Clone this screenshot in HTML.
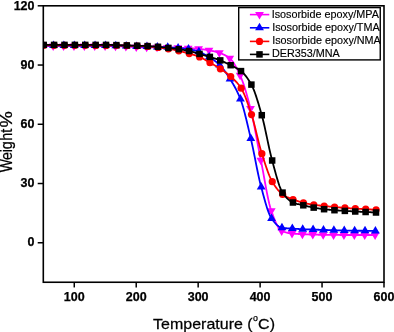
<!DOCTYPE html>
<html><head><meta charset="utf-8"><title>TGA</title>
<style>
html,body{margin:0;padding:0;background:#fff;}
body{width:394px;height:332px;overflow:hidden;position:relative;}
svg{position:absolute;left:0;top:0;display:block;}
text{font-family:"Liberation Sans",Arial,Helvetica,sans-serif;fill:#000;}
.tk{font-weight:bold;font-size:12.5px;stroke:#000;stroke-width:0.25px;}
.ax{font-size:15px;stroke:#000;stroke-width:0.25px;}
.lg{font-size:10.8px;stroke:#000;stroke-width:0.15px;}
</style></head><body>
<svg width="394" height="332" viewBox="0 0 394 332">
<rect x="0" y="0" width="394" height="332" fill="#fff"/>
<defs><clipPath id="pc"><rect x="43.30" y="5.80" width="340.70" height="276.45"/></clipPath></defs>

<g clip-path="url(#pc)">
<path d="M43.30 46.00 L42.82 46.00 L43.65 46.00 L44.48 46.00 L45.31 46.00 L46.15 46.00 L46.98 46.00 L47.81 46.00 L48.65 46.00 L49.48 46.00 L50.31 46.00 L51.14 46.00 L51.98 46.00 L52.81 46.00 L53.64 46.00 L54.48 46.00 L55.31 46.00 L56.14 46.00 L56.97 46.00 L57.81 46.00 L58.64 46.00 L59.47 46.00 L60.30 46.00 L61.14 46.00 L61.97 46.00 L62.80 46.00 L63.64 46.00 L64.47 46.00 L65.30 46.00 L66.13 46.00 L66.97 46.00 L67.80 46.00 L68.63 46.00 L69.47 46.00 L70.30 46.00 L71.13 46.00 L71.96 46.00 L72.80 46.00 L73.63 46.00 L74.46 46.00 L75.30 46.00 L76.13 46.00 L76.96 46.00 L77.79 46.00 L78.63 46.00 L79.46 46.00 L80.29 46.00 L81.12 46.00 L81.96 46.00 L82.79 46.00 L83.62 46.00 L84.46 46.00 L85.29 46.00 L86.12 46.00 L86.95 46.00 L87.79 46.00 L88.62 46.00 L89.45 46.00 L90.29 46.00 L91.12 46.00 L91.95 46.00 L92.78 46.00 L93.62 46.00 L94.45 46.00 L95.28 46.00 L96.12 46.00 L96.95 46.00 L97.78 46.00 L98.61 46.00 L99.45 46.00 L100.28 46.00 L101.11 46.00 L101.94 46.00 L102.78 46.00 L103.61 46.00 L104.44 46.00 L105.28 46.00 L106.11 46.00 L106.94 46.01 L107.77 46.02 L108.61 46.03 L109.44 46.05 L110.27 46.07 L111.11 46.09 L111.94 46.11 L112.77 46.13 L113.60 46.15 L114.44 46.17 L115.27 46.19 L116.10 46.22 L116.94 46.24 L117.77 46.27 L118.60 46.30 L119.43 46.33 L120.27 46.36 L121.10 46.39 L121.93 46.43 L122.76 46.46 L123.60 46.50 L124.43 46.54 L125.26 46.57 L126.10 46.61 L126.93 46.65 L127.76 46.69 L128.59 46.73 L129.43 46.78 L130.26 46.82 L131.09 46.87 L131.93 46.92 L132.76 46.96 L133.59 47.00 L134.42 47.04 L135.26 47.07 L136.09 47.09 L136.92 47.12 L137.76 47.14 L138.59 47.16 L139.42 47.19 L140.25 47.21 L141.09 47.23 L141.92 47.25 L142.75 47.26 L143.59 47.28 L144.42 47.29 L145.25 47.29 L146.08 47.30 L146.92 47.30 L147.75 47.30 L148.58 47.30 L149.41 47.30 L150.25 47.30 L151.08 47.30 L151.91 47.30 L152.75 47.30 L153.58 47.30 L154.41 47.30 L155.24 47.30 L156.08 47.30 L156.91 47.30 L157.74 47.30 L158.58 47.30 L159.41 47.31 L160.24 47.31 L161.07 47.32 L161.91 47.33 L162.74 47.34 L163.57 47.35 L164.41 47.36 L165.24 47.37 L166.07 47.38 L166.90 47.39 L167.74 47.41 L168.57 47.42 L169.40 47.45 L170.23 47.47 L171.07 47.50 L171.90 47.54 L172.73 47.58 L173.57 47.61 L174.40 47.65 L175.23 47.69 L176.06 47.73 L176.90 47.76 L177.73 47.80 L178.56 47.83 L179.40 47.86 L180.23 47.89 L181.06 47.92 L181.89 47.95 L182.73 47.98 L183.56 48.01 L184.39 48.04 L185.23 48.07 L186.06 48.11 L186.89 48.14 L187.72 48.18 L188.56 48.22 L189.39 48.26 L190.22 48.29 L191.05 48.33 L191.89 48.37 L192.72 48.42 L193.55 48.46 L194.39 48.51 L195.22 48.56 L196.05 48.61 L196.88 48.67 L197.72 48.73 L198.55 48.80 L199.38 48.87 L200.22 48.96 L201.05 49.05 L201.88 49.16 L202.71 49.27 L203.55 49.39 L204.38 49.52 L205.21 49.65 L206.05 49.79 L206.88 49.93 L207.71 50.08 L208.54 50.23 L209.38 50.38 L210.21 50.53 L211.04 50.69 L211.87 50.86 L212.71 51.03 L213.54 51.21 L214.37 51.41 L215.21 51.61 L216.04 51.82 L216.87 52.05 L217.70 52.29 L218.54 52.54 L219.37 52.81 L220.20 53.09 L221.04 53.40 L221.87 53.72 L222.70 54.07 L223.53 54.45 L224.37 54.85 L225.20 55.29 L226.03 55.76 L226.87 56.26 L227.70 56.81 L228.53 57.39 L229.36 58.01 L230.20 58.70 L231.03 59.52 L231.86 60.48 L232.69 61.57 L233.53 62.77 L234.36 64.09 L235.19 65.50 L236.03 67.00 L236.86 68.57 L237.69 70.22 L238.52 71.92 L239.36 73.68 L240.19 75.47 L241.02 77.38 L241.86 79.47 L242.69 81.72 L243.52 84.11 L244.35 86.65 L245.19 89.32 L246.02 92.10 L246.85 94.99 L247.69 97.97 L248.52 101.04 L249.35 104.18 L250.18 107.39 L251.02 110.69 L251.85 114.24 L252.68 118.04 L253.51 122.03 L254.35 126.19 L255.18 130.48 L256.01 134.85 L256.85 139.28 L257.68 143.72 L258.51 148.15 L259.34 152.52 L260.18 156.79 L261.01 160.94 L261.84 165.19 L262.68 169.62 L263.51 174.18 L264.34 178.78 L265.17 183.39 L266.01 187.91 L266.84 192.30 L267.67 196.49 L268.51 200.42 L269.34 204.01 L270.17 207.21 L271.00 209.95 L271.84 212.29 L272.67 214.57 L273.50 216.80 L274.33 218.95 L275.17 220.99 L276.00 222.92 L276.83 224.70 L277.67 226.31 L278.50 227.73 L279.33 228.94 L280.16 229.91 L281.00 230.63 L281.83 231.08 L282.66 231.41 L283.50 231.72 L284.33 231.99 L285.16 232.24 L285.99 232.47 L286.83 232.67 L287.66 232.85 L288.49 233.01 L289.33 233.15 L290.16 233.27 L290.99 233.38 L291.82 233.48 L292.66 233.56 L293.49 233.64 L294.32 233.71 L295.16 233.78 L295.99 233.84 L296.82 233.90 L297.65 233.95 L298.49 234.00 L299.32 234.04 L300.15 234.09 L300.98 234.13 L301.82 234.17 L302.65 234.21 L303.48 234.25 L304.32 234.29 L305.15 234.33 L305.98 234.36 L306.81 234.40 L307.65 234.43 L308.48 234.46 L309.31 234.49 L310.15 234.52 L310.98 234.55 L311.81 234.57 L312.64 234.60 L313.48 234.62 L314.31 234.64 L315.14 234.66 L315.98 234.68 L316.81 234.69 L317.64 234.71 L318.47 234.73 L319.31 234.74 L320.14 234.76 L320.97 234.77 L321.80 234.78 L322.64 234.79 L323.47 234.80 L324.30 234.81 L325.14 234.82 L325.97 234.83 L326.80 234.84 L327.63 234.85 L328.47 234.85 L329.30 234.86 L330.13 234.87 L330.97 234.88 L331.80 234.88 L332.63 234.89 L333.46 234.90 L334.30 234.91 L335.13 234.92 L335.96 234.93 L336.80 234.94 L337.63 234.95 L338.46 234.96 L339.29 234.97 L340.13 234.98 L340.96 234.99 L341.79 234.99 L342.62 235.00 L343.46 235.00 L344.29 235.00 L345.12 235.00 L345.96 235.00 L346.79 235.00 L347.62 235.00 L348.45 235.00 L349.29 235.00 L350.12 235.00 L350.95 235.00 L351.79 235.00 L352.62 235.00 L353.45 235.00 L354.28 235.00 L355.12 235.00 L355.95 235.00 L356.78 235.00 L357.62 235.00 L358.45 235.00 L359.28 235.00 L360.11 235.00 L360.95 235.00 L361.78 235.00 L362.61 235.00 L363.44 235.00 L364.28 235.00 L365.11 235.00 L365.94 235.00 L366.78 235.00 L367.61 235.00 L368.44 235.00 L369.27 235.00 L370.11 235.00 L370.94 235.00 L371.77 235.00 L372.61 235.00 L373.44 235.00 L374.27 235.00 L375.10 235.00" fill="none" stroke="#ff00ff" stroke-width="1.8" stroke-linejoin="round"/>
<g fill="#ff00ff"><path d="M38.42 43.50L47.22 43.50L42.82 51.00Z"/><path d="M48.80 43.50L57.60 43.50L53.20 51.00Z"/><path d="M59.18 43.50L67.98 43.50L63.58 51.00Z"/><path d="M69.57 43.50L78.37 43.50L73.97 51.00Z"/><path d="M79.95 43.50L88.75 43.50L84.35 51.00Z"/><path d="M90.34 43.50L99.14 43.50L94.74 51.00Z"/><path d="M100.72 43.50L109.52 43.50L105.12 51.00Z"/><path d="M111.10 43.70L119.90 43.70L115.50 51.20Z"/><path d="M121.49 44.10L130.29 44.10L125.89 51.60Z"/><path d="M131.87 44.60L140.67 44.60L136.27 52.10Z"/><path d="M142.26 44.80L151.06 44.80L146.66 52.30Z"/><path d="M152.64 44.80L161.44 44.80L157.04 52.30Z"/><path d="M163.02 44.90L171.82 44.90L167.42 52.40Z"/><path d="M173.41 45.30L182.21 45.30L177.81 52.80Z"/><path d="M183.79 45.70L192.59 45.70L188.19 53.20Z"/><path d="M194.18 46.30L202.98 46.30L198.58 53.80Z"/><path d="M204.56 47.80L213.36 47.80L208.96 55.30Z"/><path d="M214.94 50.30L223.74 50.30L219.34 57.80Z"/><path d="M225.33 55.80L234.13 55.80L229.73 63.30Z"/><path d="M235.71 72.80L244.51 72.80L240.11 80.30Z"/><path d="M246.10 106.10L254.90 106.10L250.50 113.60Z"/><path d="M256.48 157.80L265.28 157.80L260.88 165.30Z"/><path d="M266.86 208.20L275.66 208.20L271.26 215.70Z"/><path d="M277.25 228.50L286.05 228.50L281.65 236.00Z"/><path d="M287.63 231.00L296.43 231.00L292.03 238.50Z"/><path d="M298.02 231.70L306.82 231.70L302.42 239.20Z"/><path d="M308.40 232.10L317.20 232.10L312.80 239.60Z"/><path d="M318.78 232.30L327.58 232.30L323.18 239.80Z"/><path d="M329.17 232.40L337.97 232.40L333.57 239.90Z"/><path d="M339.55 232.50L348.35 232.50L343.95 240.00Z"/><path d="M349.94 232.50L358.74 232.50L354.34 240.00Z"/><path d="M360.32 232.50L369.12 232.50L364.72 240.00Z"/><path d="M370.70 232.50L379.50 232.50L375.10 240.00Z"/></g>
<path d="M43.30 45.50 L43.12 45.50 L43.95 45.50 L44.78 45.50 L45.61 45.50 L46.45 45.50 L47.28 45.50 L48.11 45.50 L48.95 45.50 L49.78 45.50 L50.61 45.50 L51.44 45.50 L52.28 45.50 L53.11 45.50 L53.94 45.50 L54.78 45.50 L55.61 45.50 L56.44 45.50 L57.27 45.50 L58.11 45.50 L58.94 45.50 L59.77 45.50 L60.60 45.50 L61.44 45.50 L62.27 45.50 L63.10 45.50 L63.94 45.50 L64.77 45.50 L65.60 45.50 L66.43 45.50 L67.27 45.50 L68.10 45.50 L68.93 45.50 L69.77 45.50 L70.60 45.50 L71.43 45.50 L72.26 45.50 L73.10 45.50 L73.93 45.50 L74.76 45.50 L75.60 45.50 L76.43 45.50 L77.26 45.50 L78.09 45.50 L78.93 45.50 L79.76 45.50 L80.59 45.50 L81.42 45.50 L82.26 45.50 L83.09 45.50 L83.92 45.50 L84.76 45.50 L85.59 45.50 L86.42 45.50 L87.25 45.50 L88.09 45.50 L88.92 45.50 L89.75 45.50 L90.59 45.50 L91.42 45.50 L92.25 45.50 L93.08 45.50 L93.92 45.50 L94.75 45.50 L95.58 45.50 L96.42 45.50 L97.25 45.50 L98.08 45.50 L98.91 45.50 L99.75 45.50 L100.58 45.50 L101.41 45.50 L102.24 45.50 L103.08 45.50 L103.91 45.50 L104.74 45.50 L105.58 45.50 L106.41 45.50 L107.24 45.51 L108.07 45.52 L108.91 45.53 L109.74 45.55 L110.57 45.57 L111.41 45.59 L112.24 45.61 L113.07 45.63 L113.90 45.65 L114.74 45.67 L115.57 45.69 L116.40 45.71 L117.24 45.73 L118.07 45.76 L118.90 45.78 L119.73 45.80 L120.57 45.82 L121.40 45.85 L122.23 45.87 L123.06 45.90 L123.90 45.93 L124.73 45.95 L125.56 45.98 L126.40 46.01 L127.23 46.04 L128.06 46.07 L128.89 46.10 L129.73 46.14 L130.56 46.17 L131.39 46.21 L132.23 46.25 L133.06 46.28 L133.89 46.31 L134.72 46.34 L135.56 46.37 L136.39 46.40 L137.22 46.42 L138.06 46.43 L138.89 46.45 L139.72 46.47 L140.55 46.48 L141.39 46.50 L142.22 46.51 L143.05 46.52 L143.89 46.54 L144.72 46.55 L145.55 46.57 L146.38 46.59 L147.22 46.61 L148.05 46.63 L148.88 46.65 L149.71 46.67 L150.55 46.69 L151.38 46.71 L152.21 46.74 L153.05 46.76 L153.88 46.79 L154.71 46.82 L155.54 46.84 L156.38 46.87 L157.21 46.90 L158.04 46.92 L158.88 46.95 L159.71 46.98 L160.54 47.01 L161.37 47.03 L162.21 47.06 L163.04 47.10 L163.87 47.13 L164.71 47.16 L165.54 47.20 L166.37 47.23 L167.20 47.27 L168.04 47.32 L168.87 47.36 L169.70 47.42 L170.53 47.47 L171.37 47.53 L172.20 47.60 L173.03 47.67 L173.87 47.73 L174.70 47.80 L175.53 47.88 L176.36 47.95 L177.20 48.02 L178.03 48.09 L178.86 48.16 L179.70 48.23 L180.53 48.30 L181.36 48.37 L182.19 48.43 L183.03 48.50 L183.86 48.58 L184.69 48.66 L185.53 48.74 L186.36 48.83 L187.19 48.93 L188.02 49.04 L188.86 49.15 L189.69 49.29 L190.52 49.44 L191.35 49.62 L192.19 49.81 L193.02 50.01 L193.85 50.23 L194.69 50.46 L195.52 50.71 L196.35 50.97 L197.18 51.23 L198.02 51.51 L198.85 51.79 L199.68 52.09 L200.52 52.42 L201.35 52.78 L202.18 53.16 L203.01 53.56 L203.85 53.99 L204.68 54.43 L205.51 54.89 L206.35 55.36 L207.18 55.85 L208.01 56.34 L208.84 56.85 L209.68 57.36 L210.51 57.88 L211.34 58.41 L212.17 58.97 L213.01 59.54 L213.84 60.13 L214.67 60.75 L215.51 61.39 L216.34 62.05 L217.17 62.75 L218.00 63.47 L218.84 64.23 L219.67 65.03 L220.50 65.87 L221.34 66.78 L222.17 67.75 L223.00 68.77 L223.83 69.85 L224.67 70.97 L225.50 72.13 L226.33 73.33 L227.17 74.57 L228.00 75.83 L228.83 77.12 L229.66 78.42 L230.50 79.74 L231.33 81.08 L232.16 82.43 L232.99 83.82 L233.83 85.24 L234.66 86.72 L235.49 88.25 L236.33 89.85 L237.16 91.53 L237.99 93.29 L238.82 95.15 L239.66 97.12 L240.49 99.20 L241.32 101.49 L242.16 104.03 L242.99 106.80 L243.82 109.76 L244.65 112.89 L245.49 116.16 L246.32 119.54 L247.15 123.01 L247.99 126.53 L248.82 130.09 L249.65 133.65 L250.48 137.19 L251.32 140.73 L252.15 144.48 L252.98 148.42 L253.81 152.49 L254.65 156.65 L255.48 160.86 L256.31 165.05 L257.15 169.20 L257.98 173.24 L258.81 177.14 L259.64 180.84 L260.48 184.30 L261.31 187.48 L262.14 190.57 L262.98 193.66 L263.81 196.74 L264.64 199.76 L265.47 202.70 L266.31 205.51 L267.14 208.18 L267.97 210.67 L268.81 212.93 L269.64 214.95 L270.47 216.69 L271.30 218.12 L272.14 219.28 L272.97 220.39 L273.80 221.46 L274.63 222.47 L275.47 223.43 L276.30 224.31 L277.13 225.12 L277.97 225.83 L278.80 226.46 L279.63 226.98 L280.46 227.38 L281.30 227.67 L282.13 227.83 L282.96 227.93 L283.80 228.03 L284.63 228.11 L285.46 228.18 L286.29 228.24 L287.13 228.30 L287.96 228.35 L288.79 228.40 L289.63 228.44 L290.46 228.49 L291.29 228.54 L292.12 228.59 L292.96 228.64 L293.79 228.70 L294.62 228.75 L295.46 228.80 L296.29 228.85 L297.12 228.90 L297.95 228.95 L298.79 229.00 L299.62 229.04 L300.45 229.09 L301.28 229.13 L302.12 229.17 L302.95 229.21 L303.78 229.25 L304.62 229.28 L305.45 229.32 L306.28 229.35 L307.11 229.39 L307.95 229.42 L308.78 229.45 L309.61 229.48 L310.45 229.51 L311.28 229.54 L312.11 229.57 L312.94 229.59 L313.78 229.62 L314.61 229.65 L315.44 229.67 L316.28 229.70 L317.11 229.72 L317.94 229.75 L318.77 229.77 L319.61 229.79 L320.44 229.81 L321.27 229.84 L322.10 229.86 L322.94 229.88 L323.77 229.91 L324.60 229.93 L325.44 229.96 L326.27 229.98 L327.10 230.00 L327.93 230.03 L328.77 230.05 L329.60 230.08 L330.43 230.10 L331.27 230.12 L332.10 230.15 L332.93 230.17 L333.76 230.20 L334.60 230.22 L335.43 230.25 L336.26 230.27 L337.10 230.30 L337.93 230.32 L338.76 230.35 L339.59 230.37 L340.43 230.40 L341.26 230.42 L342.09 230.45 L342.92 230.47 L343.76 230.49 L344.59 230.51 L345.42 230.53 L346.26 230.55 L347.09 230.56 L347.92 230.58 L348.75 230.60 L349.59 230.62 L350.42 230.63 L351.25 230.65 L352.09 230.66 L352.92 230.68 L353.75 230.69 L354.58 230.70 L355.42 230.71 L356.25 230.72 L357.08 230.73 L357.92 230.74 L358.75 230.74 L359.58 230.75 L360.41 230.76 L361.25 230.77 L362.08 230.77 L362.91 230.78 L363.74 230.79 L364.58 230.80 L365.41 230.80 L366.24 230.81 L367.08 230.82 L367.91 230.83 L368.74 230.84 L369.57 230.84 L370.41 230.85 L371.24 230.86 L372.07 230.87 L372.91 230.88 L373.74 230.88 L374.57 230.89 L375.40 230.90" fill="none" stroke="#0000ff" stroke-width="1.8" stroke-linejoin="round"/>
<g fill="#0000ff"><path d="M38.72 48.00L47.52 48.00L43.12 40.50Z"/><path d="M49.10 48.00L57.90 48.00L53.50 40.50Z"/><path d="M59.48 48.00L68.28 48.00L63.88 40.50Z"/><path d="M69.87 48.00L78.67 48.00L74.27 40.50Z"/><path d="M80.25 48.00L89.05 48.00L84.65 40.50Z"/><path d="M90.64 48.00L99.44 48.00L95.04 40.50Z"/><path d="M101.02 48.00L109.82 48.00L105.42 40.50Z"/><path d="M111.40 48.20L120.20 48.20L115.80 40.70Z"/><path d="M121.79 48.50L130.59 48.50L126.19 41.00Z"/><path d="M132.17 48.90L140.97 48.90L136.57 41.40Z"/><path d="M142.56 49.10L151.36 49.10L146.96 41.60Z"/><path d="M152.94 49.40L161.74 49.40L157.34 41.90Z"/><path d="M163.32 49.80L172.12 49.80L167.72 42.30Z"/><path d="M173.71 50.60L182.51 50.60L178.11 43.10Z"/><path d="M184.09 51.60L192.89 51.60L188.49 44.10Z"/><path d="M194.48 54.30L203.28 54.30L198.88 46.80Z"/><path d="M204.86 59.60L213.66 59.60L209.26 52.10Z"/><path d="M215.24 67.50L224.04 67.50L219.64 60.00Z"/><path d="M225.63 81.50L234.43 81.50L230.03 74.00Z"/><path d="M236.01 101.50L244.81 101.50L240.41 94.00Z"/><path d="M246.40 141.00L255.20 141.00L250.80 133.50Z"/><path d="M256.78 189.50L265.58 189.50L261.18 182.00Z"/><path d="M267.16 221.00L275.96 221.00L271.56 213.50Z"/><path d="M277.55 230.30L286.35 230.30L281.95 222.80Z"/><path d="M287.93 231.10L296.73 231.10L292.33 223.60Z"/><path d="M298.32 231.70L307.12 231.70L302.72 224.20Z"/><path d="M308.70 232.10L317.50 232.10L313.10 224.60Z"/><path d="M319.08 232.40L327.88 232.40L323.48 224.90Z"/><path d="M329.47 232.70L338.27 232.70L333.87 225.20Z"/><path d="M339.85 233.00L348.65 233.00L344.25 225.50Z"/><path d="M350.24 233.20L359.04 233.20L354.64 225.70Z"/><path d="M360.62 233.30L369.42 233.30L365.02 225.80Z"/><path d="M371.00 233.40L379.80 233.40L375.40 225.90Z"/></g>
<path d="M43.30 45.30 L43.82 45.30 L44.65 45.30 L45.48 45.30 L46.31 45.30 L47.15 45.30 L47.98 45.30 L48.81 45.30 L49.65 45.30 L50.48 45.30 L51.31 45.30 L52.14 45.30 L52.98 45.30 L53.81 45.30 L54.64 45.30 L55.48 45.30 L56.31 45.30 L57.14 45.30 L57.97 45.30 L58.81 45.30 L59.64 45.30 L60.47 45.30 L61.30 45.30 L62.14 45.30 L62.97 45.30 L63.80 45.30 L64.64 45.30 L65.47 45.30 L66.30 45.30 L67.13 45.30 L67.97 45.30 L68.80 45.30 L69.63 45.30 L70.47 45.30 L71.30 45.30 L72.13 45.30 L72.96 45.30 L73.80 45.30 L74.63 45.30 L75.46 45.30 L76.30 45.30 L77.13 45.30 L77.96 45.30 L78.79 45.30 L79.63 45.30 L80.46 45.30 L81.29 45.30 L82.12 45.30 L82.96 45.30 L83.79 45.30 L84.62 45.30 L85.46 45.30 L86.29 45.30 L87.12 45.31 L87.95 45.32 L88.79 45.33 L89.62 45.34 L90.45 45.35 L91.29 45.36 L92.12 45.37 L92.95 45.38 L93.78 45.39 L94.62 45.40 L95.45 45.40 L96.28 45.40 L97.12 45.40 L97.95 45.40 L98.78 45.40 L99.61 45.40 L100.45 45.40 L101.28 45.40 L102.11 45.40 L102.94 45.40 L103.78 45.40 L104.61 45.40 L105.44 45.40 L106.28 45.40 L107.11 45.40 L107.94 45.40 L108.77 45.41 L109.61 45.42 L110.44 45.42 L111.27 45.43 L112.11 45.44 L112.94 45.45 L113.77 45.46 L114.60 45.47 L115.44 45.49 L116.27 45.50 L117.10 45.51 L117.94 45.52 L118.77 45.53 L119.60 45.55 L120.43 45.56 L121.27 45.58 L122.10 45.59 L122.93 45.61 L123.76 45.63 L124.60 45.65 L125.43 45.67 L126.26 45.69 L127.10 45.70 L127.93 45.72 L128.76 45.75 L129.59 45.77 L130.43 45.79 L131.26 45.81 L132.09 45.84 L132.93 45.86 L133.76 45.89 L134.59 45.91 L135.42 45.94 L136.26 45.97 L137.09 45.99 L137.92 46.02 L138.76 46.05 L139.59 46.07 L140.42 46.10 L141.25 46.13 L142.09 46.16 L142.92 46.19 L143.75 46.22 L144.59 46.25 L145.42 46.29 L146.25 46.33 L147.08 46.37 L147.92 46.41 L148.75 46.47 L149.58 46.53 L150.41 46.60 L151.25 46.67 L152.08 46.75 L152.91 46.83 L153.75 46.92 L154.58 47.01 L155.41 47.10 L156.24 47.20 L157.08 47.29 L157.91 47.39 L158.74 47.48 L159.58 47.58 L160.41 47.68 L161.24 47.78 L162.07 47.89 L162.91 48.00 L163.74 48.11 L164.57 48.22 L165.41 48.34 L166.24 48.46 L167.07 48.59 L167.90 48.72 L168.74 48.85 L169.57 48.99 L170.40 49.13 L171.23 49.27 L172.07 49.42 L172.90 49.58 L173.73 49.74 L174.57 49.90 L175.40 50.07 L176.23 50.24 L177.06 50.42 L177.90 50.60 L178.73 50.78 L179.56 50.97 L180.40 51.17 L181.23 51.38 L182.06 51.59 L182.89 51.81 L183.73 52.04 L184.56 52.27 L185.39 52.50 L186.23 52.74 L187.06 52.98 L187.89 53.22 L188.72 53.46 L189.56 53.71 L190.39 53.95 L191.22 54.18 L192.05 54.42 L192.89 54.66 L193.72 54.90 L194.55 55.15 L195.39 55.41 L196.22 55.68 L197.05 55.96 L197.88 56.25 L198.72 56.56 L199.55 56.89 L200.38 57.24 L201.22 57.63 L202.05 58.05 L202.88 58.50 L203.71 58.97 L204.55 59.45 L205.38 59.95 L206.21 60.45 L207.05 60.96 L207.88 61.47 L208.71 61.97 L209.54 62.46 L210.38 62.94 L211.21 63.41 L212.04 63.88 L212.87 64.35 L213.71 64.82 L214.54 65.29 L215.37 65.77 L216.21 66.25 L217.04 66.74 L217.87 67.24 L218.70 67.75 L219.54 68.28 L220.37 68.82 L221.20 69.36 L222.04 69.92 L222.87 70.48 L223.70 71.05 L224.53 71.62 L225.37 72.22 L226.20 72.83 L227.03 73.45 L227.87 74.10 L228.70 74.77 L229.53 75.46 L230.36 76.18 L231.20 76.92 L232.03 77.67 L232.86 78.44 L233.69 79.23 L234.53 80.04 L235.36 80.89 L236.19 81.78 L237.03 82.72 L237.86 83.71 L238.69 84.75 L239.52 85.87 L240.36 87.06 L241.19 88.32 L242.02 89.74 L242.86 91.33 L243.69 93.08 L244.52 94.99 L245.35 97.02 L246.19 99.18 L247.02 101.43 L247.85 103.77 L248.69 106.17 L249.52 108.63 L250.35 111.13 L251.18 113.65 L252.02 116.23 L252.85 119.04 L253.68 122.06 L254.51 125.25 L255.35 128.55 L256.18 131.93 L257.01 135.35 L257.85 138.75 L258.68 142.10 L259.51 145.36 L260.34 148.47 L261.18 151.40 L262.01 154.11 L262.84 156.73 L263.68 159.35 L264.51 161.95 L265.34 164.50 L266.17 166.99 L267.01 169.41 L267.84 171.73 L268.67 173.94 L269.51 176.01 L270.34 177.93 L271.17 179.69 L272.00 181.25 L272.84 182.65 L273.67 183.99 L274.50 185.27 L275.33 186.49 L276.17 187.65 L277.00 188.75 L277.83 189.79 L278.67 190.75 L279.50 191.65 L280.33 192.48 L281.16 193.24 L282.00 193.92 L282.83 194.53 L283.66 195.08 L284.50 195.60 L285.33 196.08 L286.16 196.53 L286.99 196.95 L287.83 197.35 L288.66 197.73 L289.49 198.09 L290.33 198.44 L291.16 198.77 L291.99 199.10 L292.82 199.42 L293.66 199.74 L294.49 200.05 L295.32 200.35 L296.16 200.65 L296.99 200.93 L297.82 201.21 L298.65 201.48 L299.49 201.73 L300.32 201.98 L301.15 202.21 L301.98 202.44 L302.82 202.65 L303.65 202.86 L304.48 203.05 L305.32 203.24 L306.15 203.42 L306.98 203.60 L307.81 203.77 L308.65 203.93 L309.48 204.09 L310.31 204.24 L311.15 204.38 L311.98 204.52 L312.81 204.65 L313.64 204.78 L314.48 204.90 L315.31 205.01 L316.14 205.12 L316.98 205.22 L317.81 205.32 L318.64 205.41 L319.47 205.50 L320.31 205.59 L321.14 205.68 L321.97 205.77 L322.80 205.86 L323.64 205.94 L324.47 206.03 L325.30 206.12 L326.14 206.20 L326.97 206.28 L327.80 206.37 L328.63 206.45 L329.47 206.53 L330.30 206.61 L331.13 206.68 L331.97 206.76 L332.80 206.84 L333.63 206.91 L334.46 206.99 L335.30 207.07 L336.13 207.14 L336.96 207.22 L337.80 207.29 L338.63 207.37 L339.46 207.44 L340.29 207.52 L341.13 207.59 L341.96 207.66 L342.79 207.73 L343.62 207.80 L344.46 207.86 L345.29 207.93 L346.12 207.99 L346.96 208.05 L347.79 208.11 L348.62 208.16 L349.45 208.22 L350.29 208.28 L351.12 208.33 L351.95 208.39 L352.79 208.44 L353.62 208.49 L354.45 208.54 L355.28 208.60 L356.12 208.65 L356.95 208.70 L357.78 208.75 L358.62 208.80 L359.45 208.84 L360.28 208.89 L361.11 208.94 L361.95 208.99 L362.78 209.03 L363.61 209.08 L364.44 209.13 L365.28 209.17 L366.11 209.22 L366.94 209.27 L367.78 209.32 L368.61 209.37 L369.44 209.42 L370.27 209.46 L371.11 209.51 L371.94 209.56 L372.77 209.61 L373.61 209.66 L374.44 209.70 L375.27 209.75 L376.10 209.80" fill="none" stroke="#ff0000" stroke-width="1.8" stroke-linejoin="round"/>
<g fill="#ff0000"><circle cx="43.82" cy="45.30" r="3.6"/><circle cx="54.20" cy="45.30" r="3.6"/><circle cx="64.58" cy="45.30" r="3.6"/><circle cx="74.97" cy="45.30" r="3.6"/><circle cx="85.35" cy="45.30" r="3.6"/><circle cx="95.74" cy="45.40" r="3.6"/><circle cx="106.12" cy="45.40" r="3.6"/><circle cx="116.50" cy="45.50" r="3.6"/><circle cx="126.89" cy="45.70" r="3.6"/><circle cx="137.27" cy="46.00" r="3.6"/><circle cx="147.66" cy="46.40" r="3.6"/><circle cx="158.04" cy="47.40" r="3.6"/><circle cx="168.42" cy="48.80" r="3.6"/><circle cx="178.81" cy="50.80" r="3.6"/><circle cx="189.19" cy="53.60" r="3.6"/><circle cx="199.58" cy="56.90" r="3.6"/><circle cx="209.96" cy="62.70" r="3.6"/><circle cx="220.34" cy="68.80" r="3.6"/><circle cx="230.73" cy="76.50" r="3.6"/><circle cx="241.11" cy="88.20" r="3.6"/><circle cx="251.50" cy="114.60" r="3.6"/><circle cx="261.88" cy="153.70" r="3.6"/><circle cx="272.26" cy="181.70" r="3.6"/><circle cx="282.65" cy="194.40" r="3.6"/><circle cx="293.03" cy="199.50" r="3.6"/><circle cx="303.42" cy="202.80" r="3.6"/><circle cx="313.80" cy="204.80" r="3.6"/><circle cx="324.18" cy="206.00" r="3.6"/><circle cx="334.57" cy="207.00" r="3.6"/><circle cx="344.95" cy="207.90" r="3.6"/><circle cx="355.34" cy="208.60" r="3.6"/><circle cx="365.72" cy="209.20" r="3.6"/><circle cx="376.10" cy="209.80" r="3.6"/></g>
<path d="M43.30 44.90 L43.72 44.90 L44.55 44.90 L45.38 44.90 L46.21 44.90 L47.05 44.90 L47.88 44.90 L48.71 44.90 L49.55 44.90 L50.38 44.90 L51.21 44.90 L52.04 44.90 L52.88 44.90 L53.71 44.90 L54.54 44.90 L55.38 44.90 L56.21 44.90 L57.04 44.90 L57.87 44.90 L58.71 44.90 L59.54 44.90 L60.37 44.90 L61.20 44.90 L62.04 44.90 L62.87 44.90 L63.70 44.90 L64.54 44.90 L65.37 44.90 L66.20 44.90 L67.03 44.90 L67.87 44.90 L68.70 44.90 L69.53 44.90 L70.37 44.90 L71.20 44.90 L72.03 44.90 L72.86 44.90 L73.70 44.90 L74.53 44.90 L75.36 44.90 L76.20 44.90 L77.03 44.90 L77.86 44.90 L78.69 44.90 L79.53 44.90 L80.36 44.90 L81.19 44.90 L82.02 44.90 L82.86 44.90 L83.69 44.90 L84.52 44.90 L85.36 44.90 L86.19 44.90 L87.02 44.90 L87.85 44.90 L88.69 44.90 L89.52 44.90 L90.35 44.90 L91.19 44.90 L92.02 44.90 L92.85 44.90 L93.68 44.90 L94.52 44.90 L95.35 44.90 L96.18 44.90 L97.02 44.90 L97.85 44.90 L98.68 44.90 L99.51 44.90 L100.35 44.90 L101.18 44.90 L102.01 44.90 L102.84 44.90 L103.68 44.90 L104.51 44.90 L105.34 44.90 L106.18 44.90 L107.01 44.90 L107.84 44.91 L108.67 44.92 L109.51 44.93 L110.34 44.95 L111.17 44.97 L112.01 44.99 L112.84 45.01 L113.67 45.03 L114.50 45.05 L115.34 45.07 L116.17 45.09 L117.00 45.11 L117.84 45.14 L118.67 45.16 L119.50 45.18 L120.33 45.20 L121.17 45.23 L122.00 45.25 L122.83 45.28 L123.66 45.31 L124.50 45.33 L125.33 45.36 L126.16 45.38 L127.00 45.41 L127.83 45.43 L128.66 45.45 L129.49 45.48 L130.33 45.50 L131.16 45.52 L131.99 45.55 L132.83 45.57 L133.66 45.59 L134.49 45.62 L135.32 45.64 L136.16 45.67 L136.99 45.69 L137.82 45.72 L138.66 45.75 L139.49 45.78 L140.32 45.81 L141.15 45.84 L141.99 45.87 L142.82 45.90 L143.65 45.93 L144.49 45.96 L145.32 46.00 L146.15 46.03 L146.98 46.07 L147.82 46.11 L148.65 46.16 L149.48 46.20 L150.31 46.25 L151.15 46.30 L151.98 46.36 L152.81 46.41 L153.65 46.47 L154.48 46.53 L155.31 46.59 L156.14 46.66 L156.98 46.72 L157.81 46.79 L158.64 46.86 L159.48 46.93 L160.31 47.01 L161.14 47.10 L161.97 47.18 L162.81 47.27 L163.64 47.36 L164.47 47.46 L165.31 47.55 L166.14 47.65 L166.97 47.74 L167.80 47.84 L168.64 47.94 L169.47 48.03 L170.30 48.13 L171.13 48.23 L171.97 48.32 L172.80 48.42 L173.63 48.52 L174.47 48.63 L175.30 48.73 L176.13 48.84 L176.96 48.95 L177.80 49.07 L178.63 49.19 L179.46 49.31 L180.30 49.43 L181.13 49.56 L181.96 49.69 L182.79 49.83 L183.63 49.96 L184.46 50.11 L185.29 50.25 L186.13 50.41 L186.96 50.57 L187.79 50.73 L188.62 50.90 L189.46 51.08 L190.29 51.27 L191.12 51.48 L191.95 51.70 L192.79 51.93 L193.62 52.17 L194.45 52.41 L195.29 52.66 L196.12 52.91 L196.95 53.16 L197.78 53.41 L198.62 53.65 L199.45 53.89 L200.28 54.13 L201.12 54.36 L201.95 54.60 L202.78 54.83 L203.61 55.07 L204.45 55.30 L205.28 55.54 L206.11 55.78 L206.95 56.02 L207.78 56.27 L208.61 56.52 L209.44 56.77 L210.28 57.03 L211.11 57.29 L211.94 57.55 L212.77 57.81 L213.61 58.08 L214.44 58.35 L215.27 58.62 L216.11 58.90 L216.94 59.19 L217.77 59.48 L218.60 59.78 L219.44 60.09 L220.27 60.41 L221.10 60.74 L221.94 61.09 L222.77 61.44 L223.60 61.81 L224.43 62.18 L225.27 62.57 L226.10 62.96 L226.93 63.36 L227.77 63.76 L228.60 64.18 L229.43 64.59 L230.26 65.01 L231.10 65.44 L231.93 65.85 L232.76 66.26 L233.59 66.66 L234.43 67.07 L235.26 67.49 L236.09 67.93 L236.93 68.39 L237.76 68.87 L238.59 69.38 L239.42 69.93 L240.26 70.52 L241.09 71.16 L241.92 71.86 L242.76 72.63 L243.59 73.47 L244.42 74.37 L245.25 75.34 L246.09 76.38 L246.92 77.49 L247.75 78.67 L248.59 79.91 L249.42 81.22 L250.25 82.60 L251.08 84.04 L251.92 85.58 L252.75 87.33 L253.58 89.28 L254.41 91.41 L255.25 93.70 L256.08 96.13 L256.91 98.69 L257.75 101.36 L258.58 104.11 L259.41 106.94 L260.24 109.82 L261.08 112.73 L261.91 115.66 L262.74 118.79 L263.58 122.19 L264.41 125.80 L265.24 129.57 L266.07 133.46 L266.91 137.41 L267.74 141.37 L268.57 145.29 L269.41 149.12 L270.24 152.80 L271.07 156.30 L271.90 159.54 L272.74 162.59 L273.57 165.67 L274.40 168.76 L275.23 171.84 L276.07 174.87 L276.90 177.80 L277.73 180.61 L278.57 183.26 L279.40 185.71 L280.23 187.94 L281.06 189.89 L281.90 191.54 L282.73 192.86 L283.56 194.03 L284.40 195.13 L285.23 196.17 L286.06 197.14 L286.89 198.05 L287.73 198.88 L288.56 199.65 L289.39 200.35 L290.23 200.97 L291.06 201.52 L291.89 202.00 L292.72 202.41 L293.56 202.75 L294.39 203.06 L295.22 203.34 L296.06 203.59 L296.89 203.82 L297.72 204.03 L298.55 204.23 L299.39 204.42 L300.22 204.60 L301.05 204.78 L301.88 204.97 L302.72 205.16 L303.55 205.36 L304.38 205.56 L305.22 205.76 L306.05 205.96 L306.88 206.16 L307.71 206.35 L308.55 206.54 L309.38 206.72 L310.21 206.91 L311.05 207.08 L311.88 207.25 L312.71 207.41 L313.54 207.57 L314.38 207.72 L315.21 207.87 L316.04 208.01 L316.88 208.16 L317.71 208.29 L318.54 208.43 L319.37 208.56 L320.21 208.68 L321.04 208.80 L321.87 208.92 L322.70 209.03 L323.54 209.13 L324.37 209.23 L325.20 209.33 L326.04 209.42 L326.87 209.51 L327.70 209.60 L328.53 209.68 L329.37 209.76 L330.20 209.84 L331.03 209.91 L331.87 209.99 L332.70 210.06 L333.53 210.12 L334.36 210.19 L335.20 210.26 L336.03 210.32 L336.86 210.38 L337.70 210.44 L338.53 210.50 L339.36 210.55 L340.19 210.61 L341.03 210.66 L341.86 210.71 L342.69 210.77 L343.52 210.82 L344.36 210.87 L345.19 210.92 L346.02 210.97 L346.86 211.02 L347.69 211.07 L348.52 211.12 L349.35 211.17 L350.19 211.22 L351.02 211.27 L351.85 211.32 L352.69 211.36 L353.52 211.41 L354.35 211.45 L355.18 211.50 L356.02 211.54 L356.85 211.58 L357.68 211.62 L358.52 211.66 L359.35 211.70 L360.18 211.74 L361.01 211.78 L361.85 211.82 L362.68 211.86 L363.51 211.90 L364.34 211.94 L365.18 211.98 L366.01 212.02 L366.84 212.06 L367.68 212.10 L368.51 212.14 L369.34 212.18 L370.17 212.22 L371.01 212.26 L371.84 212.30 L372.67 212.34 L373.51 212.38 L374.34 212.42 L375.17 212.46 L376.00 212.50" fill="none" stroke="#000000" stroke-width="1.8" stroke-linejoin="round"/>
<g fill="#000000"><rect x="40.47" y="41.65" width="6.5" height="6.5"/><rect x="50.85" y="41.65" width="6.5" height="6.5"/><rect x="61.23" y="41.65" width="6.5" height="6.5"/><rect x="71.62" y="41.65" width="6.5" height="6.5"/><rect x="82.00" y="41.65" width="6.5" height="6.5"/><rect x="92.39" y="41.65" width="6.5" height="6.5"/><rect x="102.77" y="41.65" width="6.5" height="6.5"/><rect x="113.15" y="41.85" width="6.5" height="6.5"/><rect x="123.54" y="42.15" width="6.5" height="6.5"/><rect x="133.92" y="42.45" width="6.5" height="6.5"/><rect x="144.31" y="42.85" width="6.5" height="6.5"/><rect x="154.69" y="43.55" width="6.5" height="6.5"/><rect x="165.07" y="44.65" width="6.5" height="6.5"/><rect x="175.46" y="45.95" width="6.5" height="6.5"/><rect x="185.84" y="47.75" width="6.5" height="6.5"/><rect x="196.23" y="50.65" width="6.5" height="6.5"/><rect x="206.61" y="53.65" width="6.5" height="6.5"/><rect x="216.99" y="57.15" width="6.5" height="6.5"/><rect x="227.38" y="61.95" width="6.5" height="6.5"/><rect x="237.76" y="67.85" width="6.5" height="6.5"/><rect x="248.15" y="81.35" width="6.5" height="6.5"/><rect x="258.53" y="111.95" width="6.5" height="6.5"/><rect x="268.91" y="157.25" width="6.5" height="6.5"/><rect x="279.30" y="189.35" width="6.5" height="6.5"/><rect x="289.68" y="199.25" width="6.5" height="6.5"/><rect x="300.07" y="202.05" width="6.5" height="6.5"/><rect x="310.45" y="204.35" width="6.5" height="6.5"/><rect x="320.83" y="205.95" width="6.5" height="6.5"/><rect x="331.22" y="206.95" width="6.5" height="6.5"/><rect x="341.60" y="207.65" width="6.5" height="6.5"/><rect x="351.99" y="208.25" width="6.5" height="6.5"/><rect x="362.37" y="208.75" width="6.5" height="6.5"/><rect x="372.75" y="209.25" width="6.5" height="6.5"/></g>
</g>
<rect x="238.7" y="7.6" width="141.55" height="52.30" fill="#fff" stroke="#000" stroke-width="1.4"/>
<line x1="249.9" y1="14.6" x2="269.3" y2="14.6" stroke="#ff00ff" stroke-width="1.6"/>
<g fill="#ff00ff"><path d="M255.10 12.10L263.90 12.10L259.50 19.60Z"/></g>
<text class="lg" x="271.7" y="17.9">Isosorbide epoxy/MPA</text>
<line x1="249.9" y1="27.8" x2="269.3" y2="27.8" stroke="#0000ff" stroke-width="1.6"/>
<g fill="#0000ff"><path d="M255.10 30.30L263.90 30.30L259.50 22.80Z"/></g>
<text class="lg" x="272.2" y="31.0">Isosorbide epoxy/TMA</text>
<line x1="249.9" y1="41.4" x2="269.3" y2="41.4" stroke="#ff0000" stroke-width="1.6"/>
<g fill="#ff0000"><circle cx="259.50" cy="41.40" r="3.6"/></g>
<text class="lg" x="272.2" y="44.1">Isosorbide epoxy/NMA</text>
<line x1="249.9" y1="54.4" x2="269.3" y2="54.4" stroke="#000000" stroke-width="1.6"/>
<g fill="#000000"><rect x="256.25" y="51.15" width="6.5" height="6.5"/></g>
<text class="lg" x="272.0" y="56.9">DER353/MNA</text>
<rect x="43.3" y="5.8" width="340.70" height="276.45" fill="none" stroke="#000" stroke-width="1.6"/>
<line x1="37.70" y1="242.76" x2="43.30" y2="242.76" stroke="#000" stroke-width="1.5"/>
<text class="tk" text-anchor="end" x="34.5" y="246.46">0</text>
<line x1="37.70" y1="183.52" x2="43.30" y2="183.52" stroke="#000" stroke-width="1.5"/>
<text class="tk" text-anchor="end" x="34.5" y="187.22">30</text>
<line x1="37.70" y1="124.28" x2="43.30" y2="124.28" stroke="#000" stroke-width="1.5"/>
<text class="tk" text-anchor="end" x="34.5" y="127.98">60</text>
<line x1="37.70" y1="65.04" x2="43.30" y2="65.04" stroke="#000" stroke-width="1.5"/>
<text class="tk" text-anchor="end" x="34.5" y="68.74">90</text>
<line x1="37.70" y1="5.80" x2="43.30" y2="5.80" stroke="#000" stroke-width="1.5"/>
<text class="tk" text-anchor="end" x="34.5" y="9.50">120</text>
<line x1="74.27" y1="282.25" x2="74.27" y2="287.45" stroke="#000" stroke-width="1.5"/>
<text class="tk" text-anchor="middle" x="74.27" y="301.1">100</text>
<line x1="136.22" y1="282.25" x2="136.22" y2="287.45" stroke="#000" stroke-width="1.5"/>
<text class="tk" text-anchor="middle" x="136.22" y="301.1">200</text>
<line x1="198.16" y1="282.25" x2="198.16" y2="287.45" stroke="#000" stroke-width="1.5"/>
<text class="tk" text-anchor="middle" x="198.16" y="301.1">300</text>
<line x1="260.11" y1="282.25" x2="260.11" y2="287.45" stroke="#000" stroke-width="1.5"/>
<text class="tk" text-anchor="middle" x="260.11" y="301.1">400</text>
<line x1="322.05" y1="282.25" x2="322.05" y2="287.45" stroke="#000" stroke-width="1.5"/>
<text class="tk" text-anchor="middle" x="322.05" y="301.1">500</text>
<line x1="384.00" y1="282.25" x2="384.00" y2="287.45" stroke="#000" stroke-width="1.5"/>
<text class="tk" text-anchor="middle" x="384.00" y="301.1">600</text>
<g transform="translate(153.1 328.6) scale(1.066 1)"><text class="ax" x="0" y="0">Temperature (</text></g>
<text class="ax" style="font-size:8.8px" x="252.9" y="320.9">o</text>
<g transform="translate(258.1 328.6) scale(1.066 1)"><text class="ax" x="0" y="0">C)</text></g>
<g transform="translate(11.5 172.2) rotate(-90)"><text class="ax" style="font-size:16px" transform="translate(0 0) scale(0.87 1)">W</text><text class="ax" style="font-size:16px" transform="translate(12.2 0) scale(0.9 1)">e</text><text class="ax" style="font-size:16px" transform="translate(19.85 0) scale(0.9 1)">i</text><text class="ax" style="font-size:16px" transform="translate(22.9 0) scale(0.9 1)">g</text><text class="ax" style="font-size:16px" transform="translate(31.4 0) scale(0.9 1)">h</text><text class="ax" style="font-size:16px" transform="translate(39.55 0) scale(0.9 1)">t</text><text class="ax" style="font-size:16px" transform="translate(44.8 0) scale(1.15 1)">%</text></g>
</svg></body></html>
